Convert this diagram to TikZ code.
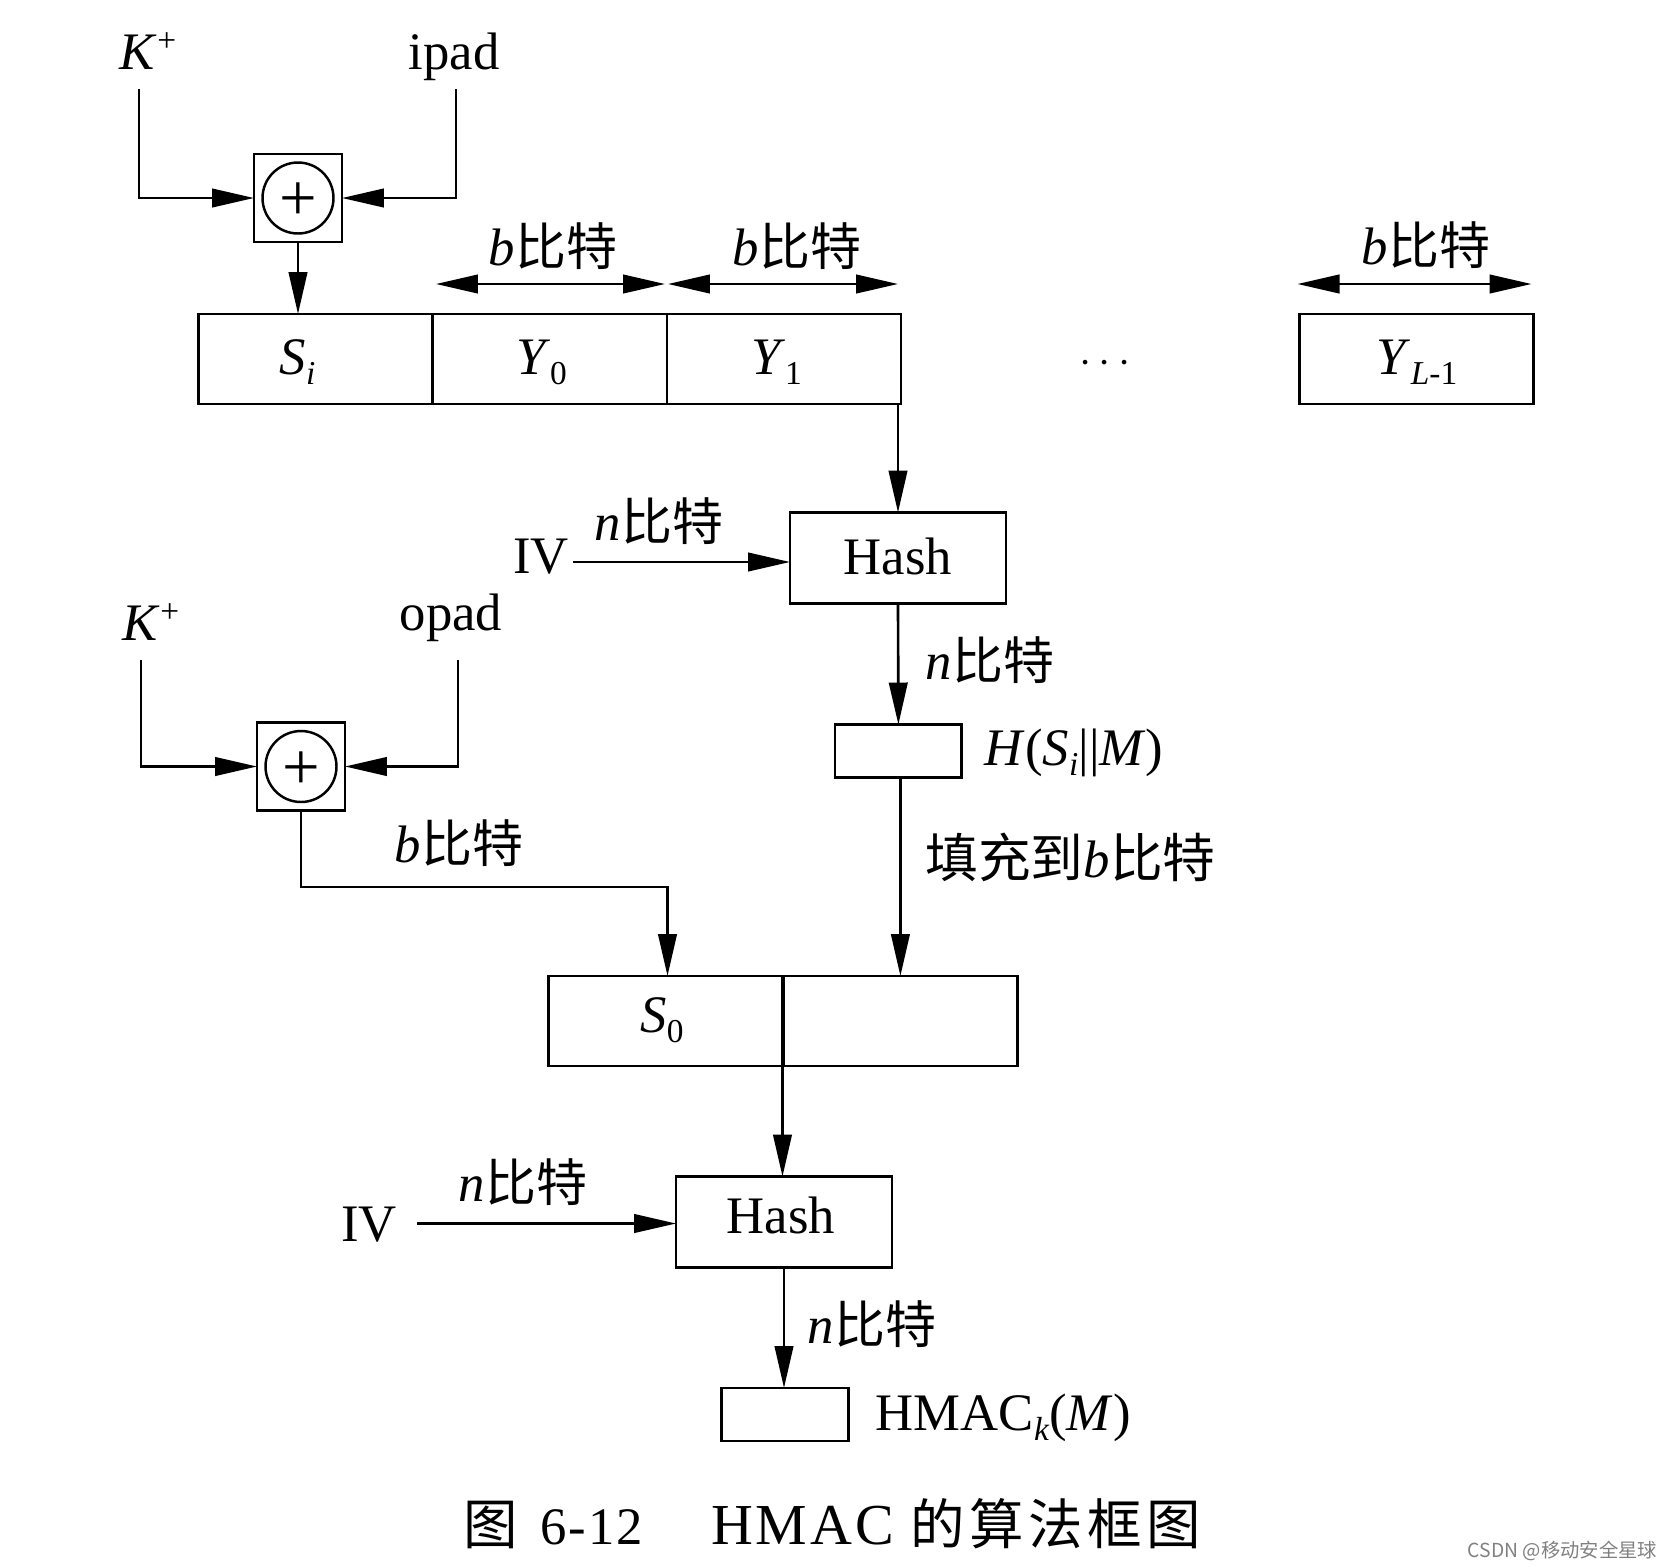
\documentclass[tikz,border=0pt]{standalone}
\usepackage{fontspec}
\setmainfont{Liberation Serif}
\newfontfamily\cjk{Noto Sans CJK SC}
\newfontfamily\cjkwide[LetterSpace=8]{Noto Sans CJK SC}
\usetikzlibrary{arrows.meta}
\newcommand{\lowtext}[1]{\raisebox{-0.42ex}{\fontsize{19}{20}\selectfont #1}}
\newcommand{\hightext}[1]{\raisebox{0.72ex}{\fontsize{19}{20}\selectfont #1}}
\newcommand{\bits}[1]{\textit{#1}{\cjk\fontsize{29}{34}\selectfont 比特}}
\tikzset{x=0.02cm, y=-0.02cm,
every node/.style={ % Sets the text of each label
font=\fontsize{30}{36}\selectfont,
outer sep=0pt},
cellbox/.style={ % Sets the cells of the two rows
draw,
line width=1.6pt,
minimum width=4.68cm,
minimum height=1.8cm},
hashbox/.style={
draw,
line width=1.6pt,
minimum width=4.32cm,
minimum height=1.82cm},
outbox/.style={ % Empty result boxes
draw,
line width=1.6pt,
minimum width=2.54cm,
minimum height=1.06cm},
xorbox/.style={
draw,
line width=1.4pt,
minimum size=1.76cm},
xorring/.style={
draw,
circle,
line width=1.4pt,
inner sep=0pt,
minimum size=1.42cm,
font=\fontsize{38}{40}\selectfont},
flow/.style={ % Sets the properties for each arrow
draw,
line width=1.5pt,
-{Triangle[length=0.84cm,width=0.37cm]}},
span/.style={
draw,
line width=1.5pt,
{Triangle[length=0.84cm,width=0.37cm]}-{Triangle[length=0.84cm,width=0.37cm]}}}
\begin{document}
\begin{tikzpicture}
	\useasboundingbox (0,0) rectangle (1674,1566);
	% upper xor
	\node (kplusi) at (148,51) {\textit{K}\hightext{+}};
	\node (ipad) at (454,57) {ipad};
	\node[xorbox] (xorboxi) at (298,198) {};
	\node[xorring] (xori) at (298,198) {\smash{\raisebox{-.34em}{+}}};
	\coordinate (kini) at (139,89);
	\coordinate (ipadin) at (456,89);
	\draw[flow] (kini) |- (xorboxi.west);
	\draw[flow] (ipadin) |- (xorboxi.east);
	% first row
	\node[cellbox] (si) at (315.5,359) {};
	\node[cellbox] (y0) at (550,359) {};
	\node[cellbox] (y1) at (784,359) {};
	\node (rowdots) at (1105,364) {$\cdots$};
	\node[cellbox] (yl) at (1416.8,359) {};
	\node (silabel) at (297.5,362) {\textit{S}\lowtext{\textit{i}}};
	\node (y0label) at (541.5,362) {\textit{Y}\lowtext{0}};
	\node (y1label) at (776.5,362) {\textit{Y}\lowtext{1}};
	\node (yllabel) at (1417,362) {\textit{Y}\lowtext{\textit{L}-1}};
	\draw[flow] (xorboxi.south) -- (xorboxi.south |- si.north);
	\coordinate (b0l) at (436,284);
	\coordinate (b0r) at (665,284);
	\coordinate (b1l) at (668,284);
	\coordinate (b1r) at (898,284);
	\coordinate (b2l) at (1297.5,284);
	\coordinate (b2r) at (1531.5,284);
	\draw[span] (b0l) -- (b0r);
	\draw[span] (b1l) -- (b1r);
	\draw[span] (b2l) -- (b2r);
	\node (b0) at (553,246) {\bits{b}};
	\node (b1) at (797,246) {\bits{b}};
	\node (b2) at (1426,245) {\bits{b}};
	% first hash
	\node[hashbox] (hasha) at (898,558) {};
	\node (hashatext) at (898,556.5) {Hash};
	\node (iva) at (541,557) {IV};
	\node (na) at (659,521) {\bits{n}};
	\coordinate (ivina) at (573,562);
	\draw[flow] (hasha.north |- y1.south) -- (hasha.north);
	\draw[flow] (ivina) -- (ivina -| hasha.west);
	\node[outbox] (hs) at (898.4,751) {};
	\node[anchor=west] (hslabel) at (979,753) {\textit{H}(\textit{S}\lowtext{\textit{i}}||\textit{M})};
	\draw[flow] (hasha.south) -- (hs.north);
	\node (nb) at (990,660) {\bits{n}};
	% lower xor
	\node (kpluso) at (151,622) {\textit{K}\hightext{+}};
	\node (opad) at (451,618) {opad};
	\node[xorbox] (xorboxo) at (301,766.5) {};
	\node[xorring] (xoro) at (301,766.5) {\smash{\raisebox{-.34em}{+}}};
	\coordinate (kino) at (141,660);
	\coordinate (opadin) at (458,660);
	\draw[flow] (kino) |- (xorboxo.west);
	\draw[flow] (opadin) |- (xorboxo.east);
	\node (bo) at (459,843) {\bits{b}};
	% second row
	\node[cellbox] (s0) at (665.5,1021) {};
	\node[cellbox] (pad) at (900.5,1021) {};
	\node (s0label) at (662,1020) {\textit{S}\lowtext{0}};
	\coordinate (bendo) at (667.5,887);
	\draw[flow] (xorboxo.south) |- (bendo) -- (bendo |- s0.north);
	\draw[flow] ([xshift=0.04cm]hs.south) -- ([xshift=0.04cm]hs.south |- pad.north);
	\node (fill) at (1070.5,857) {{\cjk 填充到}\textit{b}{\cjk 比特}};
	% second hash
	\node[hashbox] (hashb) at (784,1222) {};
	\node (hashbtext) at (781,1215.5) {Hash};
	\node (ivb) at (369,1225) {IV};
	\node (nc) at (523,1182) {\bits{n}};
	\coordinate (ivinb) at (417,1223.5);
	\draw[flow] (s0.south east) -- (s0.south east |- hashb.north);
	\draw[flow] (ivinb) -- (ivinb -| hashb.west);
	\node[outbox] (ms) at (785,1414.5) {};
	\node[anchor=west] (mslabel) at (870,1418) {HMAC\lowtext{\textit{k}}(\textit{M})};
	\draw[flow] (hashb.south) -- (hashb.south |- ms.north);
	\node (nd) at (872,1324) {\bits{n}};
	% caption
	\node (caption) at (832,1524) {{\cjk\fontsize{31}{36}\selectfont 图}\hspace{0.45cm}\addfontfeature{LetterSpace=4}6-12\hspace{1.36cm}{\fontsize{33}{36}\selectfont\addfontfeature{LetterSpace=5}HMAC}\hspace{0.34cm}{\cjkwide\fontsize{31}{36}\selectfont 的算法框图}};
	\node[anchor=east, text=gray, font=\fontsize{11}{13}\selectfont\cjk] (mark) at (1663,1551) {CSDN @移动安全星球};
\end{tikzpicture}
\end{document}
